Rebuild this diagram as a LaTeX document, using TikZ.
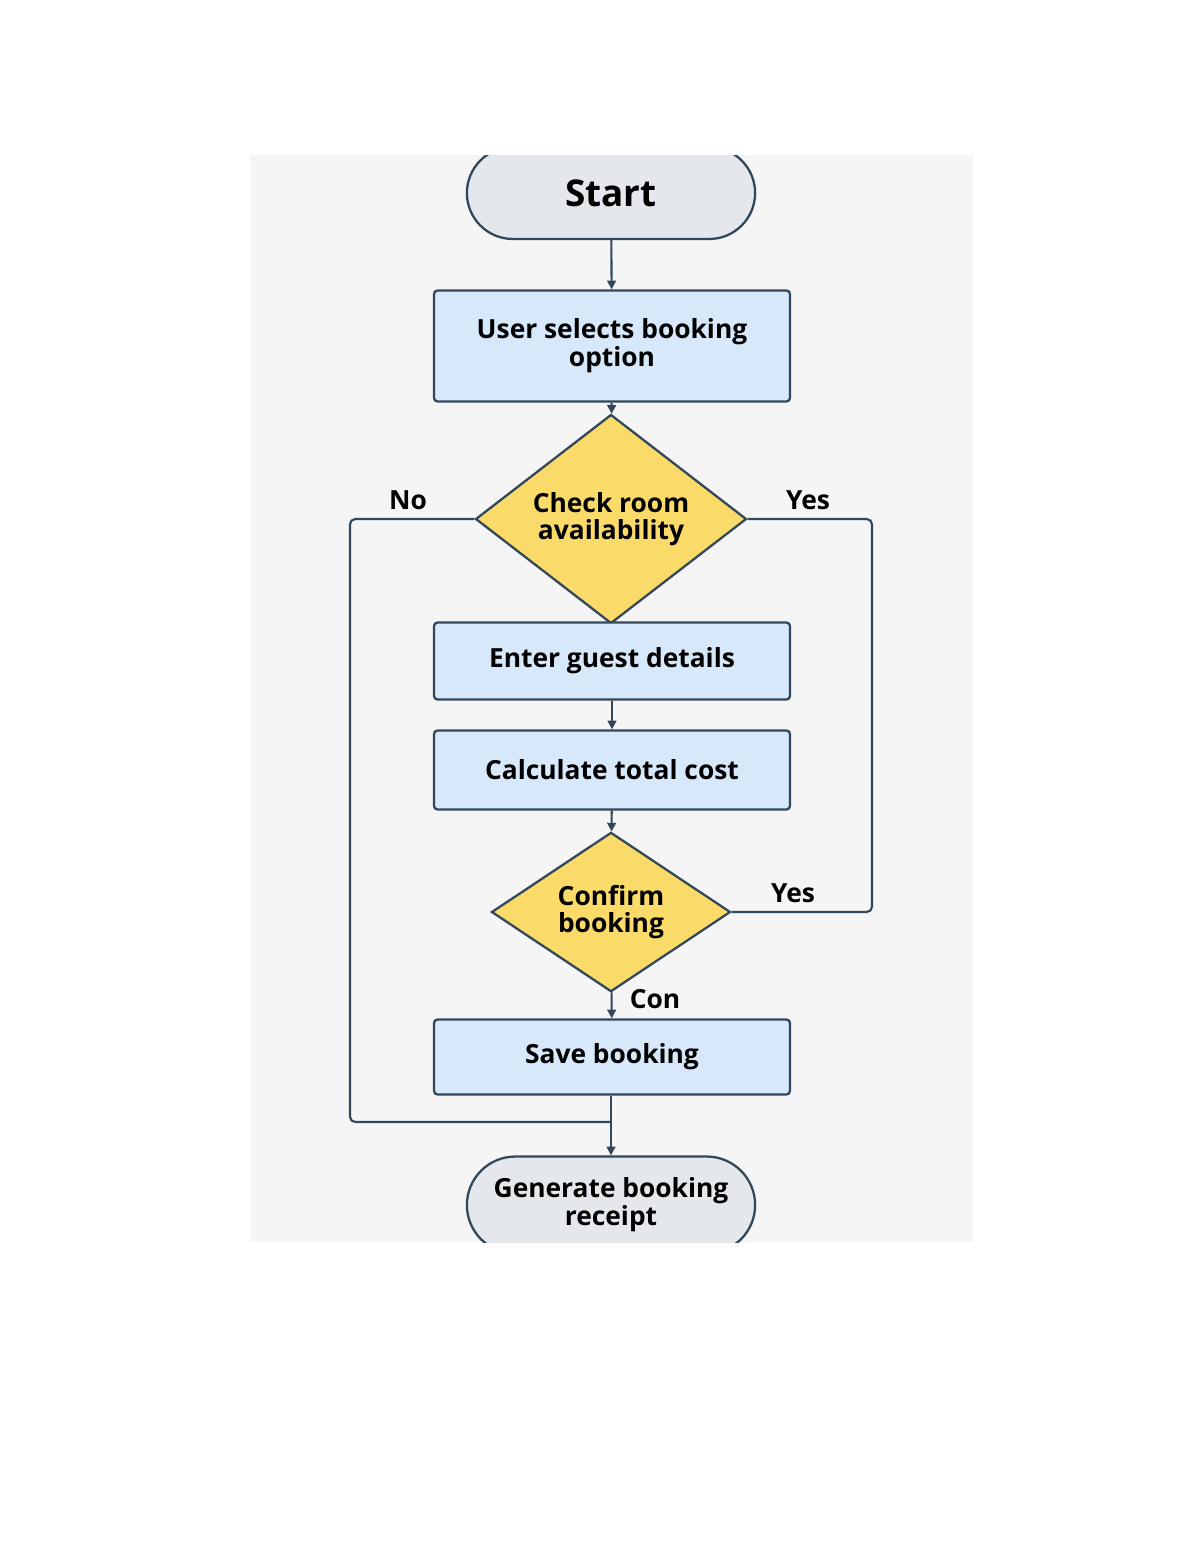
\documentclass[tikz,border=0pt]{standalone}
\usepackage{fontspec}
\setmainfont{Open Sans}
\usetikzlibrary{shapes.geometric, arrows.meta}
\definecolor{LineBlue}{HTML}{33475B}
\definecolor{BoxBlue}{HTML}{D6E8FA}
\definecolor{DiaYellow}{HTML}{FADB6A}
\definecolor{TermGray}{HTML}{E4E7EB}
\definecolor{BackGray}{HTML}{F5F5F5}

\tikzset{
  box/.style={draw=LineBlue, line width=1.3pt, fill=BoxBlue, rounded corners=2pt, minimum width=7.12cm, align=center, font=\fontsize{15}{18}\selectfont\bfseries},
  dia/.style={draw=LineBlue, line width=1.3pt, fill=DiaYellow, diamond, inner sep=0pt, align=center, font=\fontsize{15}{18}\selectfont\bfseries},
  term/.style={draw=LineBlue, line width=1.3pt, fill=TermGray, rounded rectangle, minimum width=6cm, align=center},
  link/.style={draw=LineBlue, line width=1.2pt},
  arr/.style={link, -{Triangle[length=5pt, width=5pt]}},
  lbl/.style={font=\fontsize{15}{18}\selectfont\bfseries}
}
\usetikzlibrary{shapes.misc}

\begin{document}
\begin{tikzpicture}[x=0.02cm, y=-0.02cm]
	\useasboundingbox (0,0) rectangle (1200,1553);
	\fill [BackGray] (250,155) rectangle (973,1242);
	
	\begin{scope}
		\clip (250,155) rectangle (973,1242);
		\node [term, minimum height=1.84cm, font=\fontsize{21}{25}\selectfont\bfseries] (start) at (611,193) {Start};
		\node [term, minimum height=1.94cm, font=\fontsize{15}{18}\selectfont\bfseries] (done) at (611,1205) {Generate booking\\[-2pt]receipt};
	\end{scope}
	
	\node [box, minimum height=2.22cm] (select) at (612,346) {User selects booking\\[-2pt]option};
	\node [dia, minimum width=5.42cm, minimum height=3.14cm] (check) at (611,519) {Check room\\[-3pt]availability};
	\node [box, minimum height=1.54cm] (guest) at (612,661) {Enter guest details};
	\node [box, minimum height=1.58cm] (cost) at (612,770) {Calculate total cost};
	\node [dia, minimum width=4.78cm, minimum height=2.78cm] (confirm) at (611,912) {Confirm\\[-3pt]booking};
	\node [box, minimum height=1.5cm] (save) at (612,1057) {Save booking};
	
	\coordinate (nocorner) at (350,519);
	\coordinate (nobottom) at (350,1122);
	\coordinate (join) at (611,1122);
	\coordinate (yestop) at (872,519);
	\coordinate (yesbottom) at (872,912);
	
	\draw [arr] (start) -- (select);
	\draw [arr] (select) -- (check);
	\draw [arr] (guest) -- (cost);
	\draw [arr] (cost) -- (confirm);
	\draw [arr] (confirm) -- (save);
	\draw [arr] (save.south -| done) -- (done.north);
	
	\draw [link, rounded corners=3pt] (check.west) -- (nocorner) -- (nobottom) -- (join);
	\draw [link, rounded corners=3pt] (check.east) -- (yestop) -- (yesbottom) -- (confirm.east);
	
	\node [lbl] (no) at (408,500) {No};
	\node [lbl] (yes1) at (808,500) {Yes};
	\node [lbl] (yes2) at (793,893) {Yes};
	\node [lbl] (con) at (655,999) {Con};
\end{tikzpicture}
\end{document}
